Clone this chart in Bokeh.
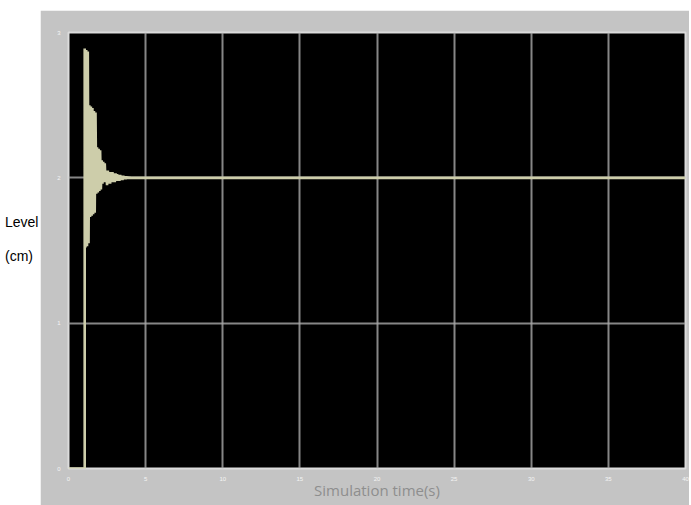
from bokeh.plotting import figure
from bokeh.models import Range1d, Div, FixedTicker, Spacer
from bokeh.layouts import row, column
from bokeh.embed import file_html
from bokeh.resources import INLINE

# ---- data ----
x_ticks = [0, 5, 10, 15, 20, 25, 30, 35, 40]
y_ticks = [0, 1, 2, 3]

time_s = [0.0, 1.05,
          1.05, 1.10, 1.15, 1.20, 1.25, 1.30,
          1.35, 1.40, 1.45, 1.50, 1.55, 1.60, 1.65, 1.70, 1.75,
          1.80, 1.85, 1.90, 1.95, 2.00, 2.05, 2.10,
          2.15, 2.20, 2.25, 2.30, 2.35, 2.40,
          2.45, 2.50, 2.55, 2.60, 2.65, 2.70, 2.75, 2.80, 2.85, 2.90,
          2.95, 3.00, 3.05, 3.10, 3.15, 3.20, 3.25, 3.30, 3.35, 3.40, 3.45,
          3.50, 3.55, 3.60, 3.65, 3.70, 3.75, 3.80, 3.85, 3.90, 3.95, 4.00,
          4.05, 40.0]
level_cm = [0.0, 0.0,
            2.89, 1.52, 2.88, 1.53, 2.87, 1.55,
            2.50, 1.73, 2.49, 1.74, 2.48, 1.75, 2.46, 1.76, 2.45,
            1.89, 2.21, 1.90, 2.20, 1.91, 2.19, 1.92,
            2.12, 1.96, 2.11, 1.97, 2.10, 1.97,
            2.05, 1.95, 2.05, 1.96, 2.04, 1.96, 2.04, 1.97, 2.04, 1.97,
            2.03, 1.97, 2.03, 1.98, 2.025, 1.98, 2.02, 1.98, 2.02, 1.985, 2.015,
            1.985, 2.015, 1.99, 2.01, 1.99, 2.01, 1.993, 2.007, 1.995, 2.005, 2.0,
            2.0, 2.0]

x_label = "Simulation time(s)"
y_label_lines = ["Level", "(cm)"]

GRAY = "#c4c4c4"

p = figure(width=649, height=495, output_backend="svg", toolbar_location=None,
           x_range=Range1d(0, 40), y_range=Range1d(0, 3),
           background_fill_color="black", border_fill_color=GRAY,
           min_border_left=28, min_border_right=4, min_border_top=22, min_border_bottom=37)

p.outline_line_color = "#dcdcdc"
p.outline_line_width = 2

p.xaxis.ticker = FixedTicker(ticks=x_ticks)
p.yaxis.ticker = FixedTicker(ticks=y_ticks)
for ax in (p.xaxis, p.yaxis):
    ax.axis_line_color = None
    ax.major_tick_line_color = None
    ax.minor_tick_line_color = None
    ax.major_label_text_font_size = "6px"
    ax.major_label_text_color = "#f4f4f4"
    ax.major_label_standoff = 2

p.xaxis.axis_label = x_label
p.xaxis.axis_label_text_font = "Open Sans"
p.xaxis.axis_label_text_font_style = "normal"
p.xaxis.axis_label_text_font_size = "15px"
p.xaxis.axis_label_text_color = "#8e8e8e"
p.xaxis.axis_label_standoff = -4

p.grid.grid_line_color = "#a8a8a8"
p.grid.grid_line_width = 2
p.grid.grid_line_alpha = 0.8

p.line(time_s, level_cm, line_color="#cdcdaa", line_width=2.6)

div = Div(text="<div style=\"margin-top:190px;font-family:'Liberation Sans',Arial;"
               "font-size:14px;line-height:34px;color:black\">"
               + "<br>".join(y_label_lines) + "</div>",
          width=30, height=495)

layout = column(Spacer(height=10), row(div, p))
open("out.html", "w").write(file_html(layout, INLINE))
